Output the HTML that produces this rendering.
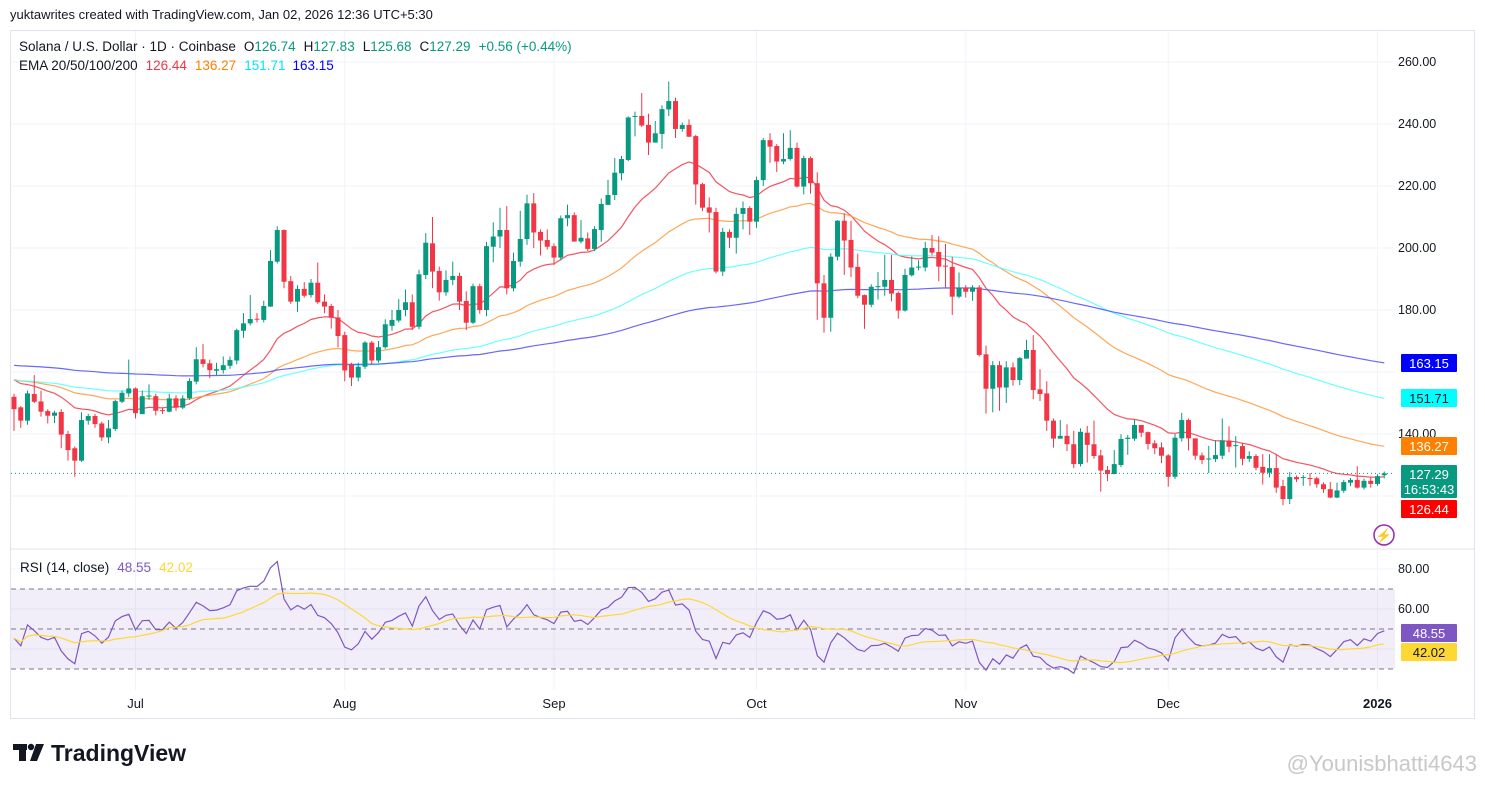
<!DOCTYPE html>
<html><head><meta charset="utf-8">
<style>
body{margin:0;background:#fff;width:1485px;height:787px;overflow:hidden;font-family:"Liberation Sans",sans-serif;}
svg text{font-family:"Liberation Sans",sans-serif;}
</style></head>
<body>
<svg id="chart" width="1485" height="787" xmlns="http://www.w3.org/2000/svg">
<text x="10" y="19" font-size="13" fill="#131722">yuktawrites created with TradingView.com, Jan 02, 2026 12:36 UTC+5:30</text>
<rect x="10.5" y="30.5" width="1464" height="688" fill="#fff" stroke="#e0e3eb"/>
<g id="grid"></g>
<rect x="11" y="589" width="1384" height="80" fill="#7e57c2" fill-opacity="0.1"/>
<g id="marks"></g>
<line x1="10" y1="549" x2="1475" y2="549" stroke="#e0e3eb"/>
<g id="axes"></g>
<text x="19" y="51" font-size="13.5"><tspan fill="#131722">Solana / U.S. Dollar · 1D · Coinbase</tspan><tspan dx="8" fill="#131722">O</tspan><tspan fill="#089981">126.74</tspan><tspan dx="8" fill="#131722">H</tspan><tspan fill="#089981">127.83</tspan><tspan dx="8" fill="#131722">L</tspan><tspan fill="#089981">125.68</tspan><tspan dx="8" fill="#131722">C</tspan><tspan fill="#089981">127.29</tspan><tspan dx="8" fill="#089981">+0.56 (+0.44%)</tspan></text>
<text x="19" y="70" font-size="13.5"><tspan fill="#131722">EMA 20/50/100/200</tspan><tspan dx="8" fill="#f23645">126.44</tspan><tspan dx="8" fill="#ff7f00">136.27</tspan><tspan dx="8" fill="#00e5ff">151.71</tspan><tspan dx="8" fill="#0000ff">163.15</tspan></text>
<text x="20" y="572" font-size="13.5"><tspan fill="#131722">RSI (14, close)</tspan><tspan dx="8" fill="#7e57c2">48.55</tspan><tspan dx="8" fill="#fdd835">42.02</tspan></text>
<circle cx="1384" cy="535" r="10" fill="none" stroke="#9c27b0" stroke-width="1.5"/>
<text x="1384" y="540" font-size="13" fill="#9c27b0" text-anchor="middle">⚡</text>
<g>
<rect x="13" y="744" width="14" height="6" fill="#131722"/><rect x="19" y="744" width="7" height="17" fill="#131722"/><circle cx="31" cy="747" r="3.2" fill="#131722"/><polygon points="36,744 44,744 37,761 30,761" fill="#131722"/>
<text x="51" y="761" font-size="23" font-weight="bold" fill="#131722">TradingView</text></g>
<text x="1477" y="771" font-size="22" fill="#c8c8c8" text-anchor="end">@Younisbhatti4643</text>
</svg>
<script>
const opens=[152,148.6,144.3,152.9,150.5,147.4,145.9,147.1,140,135.4,131.4,144.3,145.8,143.4,138.9,141.6,150.4,153.1,154.7,146.4,152.2,152.2,147.7,147.2,151.5,148.5,151.5,156.9,164.1,162.8,160.4,160.6,162,163.7,173.3,175.7,177.2,176.8,181.1,195.6,205.8,189.3,182.7,186.8,184.8,188.8,182.7,181.3,177.6,171.9,162.5,158.2,161.7,169.5,163.7,168,174.9,176.6,180,182.5,174.6,191.3,201.5,192.6,185.7,189.7,191,182.9,175.9,187.7,180,200.4,203.7,205.8,187,195.6,202.9,214.4,205.2,202.6,200.6,196.9,209.6,210.6,202.1,203.1,199.7,205.8,213.9,217.1,224.1,228.4,242.4,242.6,239.7,234,236.8,244.7,247.4,238.4,239.7,236.1,220.6,213.1,211.6,192.4,205.2,203.3,211,212.9,208.5,221.9,234.8,232.9,227.9,228.7,232.3,219.8,229,220.9,188.6,177.5,197.2,208.8,202.6,193.9,184.8,181.7,187.5,187.5,189.7,185.5,179.8,191.2,193.8,193.7,200,198.7,194.3,193.9,184.3,187.2,185.9,187.3,165.7,154.6,162.2,155,161.5,157.4,164.3,167.1,154.4,153.1,144.3,138.5,139.4,136.7,130.3,140.4,136.7,133.1,128.4,127.1,130,138.4,138.5,142.9,140.6,137,135.7,133.1,126.2,138.6,144.5,138.6,133.1,131.9,131.9,133,137.9,136.3,136.1,132,132.9,129.4,127.5,129,123.2,119,126.1,126,125.8,125.7,123.8,122.2,119.5,121.7,124.3,125.2,122.7,124.9,123.9,126.7];
const closes=[148,144.3,153.1,150.4,147.2,145.9,146.9,139.8,134.8,131.4,144.5,145.8,143.2,138.9,141.8,150.6,153.3,154.7,146.7,152.2,152.4,147.5,147.5,151.5,148.5,151.5,157.1,164.1,162.6,160.6,160.9,162.2,163.9,173.5,175.7,177.1,177,181.3,195.8,205.8,189.1,182.7,186.8,184.6,188.8,182.5,181.1,177.5,171.6,160.5,158.2,161.7,169.5,163.7,168,175.4,176.8,180,182.5,174.6,191.5,201.7,192.4,185.7,189.7,191,182.7,175.9,187.7,180,200.6,203.7,205.8,187,195.8,202.9,214.4,205,202.4,200.4,196.9,209.6,210.6,202.1,203.3,199.7,206.1,214.2,217.1,224.3,228.7,242.1,242.6,239.5,234,237,244.8,247.4,238.4,239.7,235.9,220.5,213,211.4,192.4,205.2,203.3,211,212.9,208.5,221.9,234.8,232.7,227.9,228.7,232.3,219.8,229,220.9,188.6,177.5,197.2,208.8,202.4,193.7,184.6,181.7,187.5,187.7,189.7,185.3,179.8,191.3,193.7,194,200,198.5,194,194.2,184.3,187.2,185.9,187.3,165.5,154.6,162.2,155,161.5,157.4,164.5,167.1,154.2,152.9,144.3,138.5,139.4,136.7,130.3,140.7,136.5,132.9,128.2,127.1,130.3,138.4,138.8,142.9,140.4,136.8,135.4,133,126.2,138.8,144.5,138.6,133,131.6,132.1,133.2,137.9,135.9,136.4,132,132.9,129.1,127.5,129,122.7,119,126.1,125.4,126.1,125.7,123.8,122.2,119.5,121.8,124.5,125.2,122.7,124.9,123.9,126.4,127.3];
const highs=[153,149,154,159,154,148,147.5,148,141,136,147,146.5,146.5,144,144.5,151,154,164,155,154,156,153,148.5,153,152.5,152.5,158,168,169,164,163,165,165,174,179,184.8,179,183,199.3,207,206,191,188,189,190,195.3,185,182,180,173,163,163,170,170,170,177,180,183.5,186.6,185,193,204.8,210,194,192.8,195.6,192,186,188.5,188.5,202,208.3,213,213.5,198.5,212,217.2,217.7,206,206,201.5,210.5,214,211.5,209,205,207,216,222,229,229.7,242.5,244,250,243.3,241,246,253.7,248.5,240.5,241.5,236.5,221,216.3,213,206.5,206,213,215,213.5,223,235.5,237,233.5,237,238,234,229.8,229.5,224.4,191.3,198.3,209,211.2,208.8,198.2,185,188.3,192.2,197.8,197.8,186,193.3,197.3,196,202,204.2,203.8,201.3,197.2,192.1,188,188,188,168.5,163.5,163.5,163.5,163.1,164.8,170.4,171.9,160.9,157,145,144.5,143.1,141,141.8,142.6,144.3,134.9,129.7,134.8,139.9,139.7,144.6,142.9,140.8,138,137.3,133.5,140,146.8,145,135,134,136.2,138,145,142.5,139.3,137.2,134.4,133.5,133.5,133.5,133.5,125.2,127.8,126.6,126.8,127.4,126.2,124.4,124.5,124.3,125.2,125.8,129.6,125.6,126.3,127,127.9];
const lows=[141,142,143,150,145.6,143.4,143.5,135.4,131.4,126.2,131,143,142,137.8,137,141,150,152,145,147,151,146,146.5,147,147.5,148,151,156,161.5,158,159,159.5,161,162.5,171,175,176,176,181,195,187,182,179.4,184,184,182,179,174,168,157,155.5,157,161,162.3,163,167.5,173.3,176,178,173.5,173.8,190,187,183,184.6,188,180,173.5,175.5,178.8,178,195.4,200,185,186,194,201,200,197.6,199.5,194.5,196,207,202,201.5,199,199,202,214,215.5,221.8,228,236,239,230,234,232,242.6,235.5,237.5,235.8,214,211.9,205,191.8,191,200,198.2,206,204.2,206.5,220,227.5,224.5,227,228.2,219.5,217.3,217.5,176.8,172.7,173,196,191.3,190.6,183.8,173.9,180.9,183.4,184.6,182.8,177.2,179.5,190.8,192.8,192.5,197.7,189.3,187.3,178.4,183.8,184,183,165,146.6,147,147.5,150,155.6,155.8,165,151.2,150.6,141,135.6,138.5,134.5,129,129.5,130.8,132,121.4,124.8,127,129.3,133.3,137.8,139,135,133.5,130.6,123,125.5,137.6,134.7,131.7,130.3,127.4,131,131.9,134.1,129.2,129.9,131,128.3,123.7,126,121,117,117.4,124.5,123.3,123.3,122.7,121,119.3,119.3,121,123.2,122.4,122.1,122.7,123.3,125.7];
const priceTicks=[260,240,220,200,180,160,140,120];
const rsiTicks=[80,60];
const monthLabels=["Jul","Aug","Sep","Oct","Nov","Dec","2026"];
const monthIndex=[18,49,80,110,141,171,202];
const emaPeriods=[20,50,100,200];
const emaSeeds=[158.5,158,157.6,162.3];
const emaColors=["#f23645","#ff9838","#53ffff","#4d4dff"];
const emaLabels=["126.44","136.27","151.71","163.15"];

const NS="http://www.w3.org/2000/svg";
const X=i=>14+i*6.75;
const Y=p=>62+(260-p)*3.1;
const RY=v=>569+(80-v)*2;
function mk(tag,attrs,parent){const e=document.createElementNS(NS,tag);for(const k in attrs)e.setAttribute(k,attrs[k]);parent.appendChild(e);return e;}
const grid=document.getElementById('grid'),marks=document.getElementById('marks'),axes=document.getElementById('axes');

priceTicks.forEach(p=>{
  const l=mk('line',{x1:11,x2:1395,y1:Y(p),y2:Y(p),stroke:'#f0f3fa'},grid);
  
  
  if(p!==160&&p!==120){const t=mk('text',{x:1398,y:Y(p)+4,'font-size':12.5,fill:'#131722'},axes);t.textContent=p.toFixed(2);
  
  }
});
[80,60,40].forEach(v=>{const l=mk('line',{x1:11,x2:1395,y1:RY(v),y2:RY(v),stroke:'#f0f3fa'},grid);
  
  });
rsiTicks.forEach(v=>{const t=mk('text',{x:1398,y:RY(v)+4,'font-size':12.5,fill:'#131722'},axes);t.textContent=v.toFixed(2);
  
  });
monthLabels.forEach((m,k)=>{const x=X(monthIndex[k]);
  const l=mk('line',{x1:x,x2:x,y1:31,y2:690,stroke:'#f0f3fa'},grid);
  
  
  const t=mk('text',{x:x,y:708,'font-size':13,fill:'#131722','text-anchor':'middle','font-weight':m==='2026'?'bold':'normal'},axes);t.textContent=m;
  
  });
[70,50,30].forEach(v=>{const l=mk('line',{x1:11,x2:1395,y1:RY(v),y2:RY(v),stroke:'#787b86','stroke-dasharray':'5 4'},grid);
  
  });

emaPeriods.forEach((n,k)=>{let e=emaSeeds[k];const a=2/(n+1);let pts=[];
  closes.forEach((c,i)=>{e=c*a+e*(1-a);pts.push(X(i).toFixed(1)+','+Y(e).toFixed(1));});
  const pl=mk('polyline',{points:pts.join(' '),fill:'none',stroke:emaColors[k],'stroke-width':1.2,'stroke-opacity':0.85},marks);
  
  });

closes.forEach((c,i)=>{const o=opens[i],up=c>=o,col=up?'#089981':'#f23645',x=X(i);
  const g=mk('g',{},marks);
  
  
  mk('line',{x1:x,x2:x,y1:Y(highs[i]),y2:Y(lows[i]),stroke:col,'stroke-width':1},g);
  const top=Y(Math.max(o,c)),h=Math.max(1,Math.abs(Y(o)-Y(c)));
  mk('rect',{x:x-2.5,y:top,width:5,height:h,fill:col},g);});

const lp=mk('line',{x1:11,x2:1395,y1:Y(127.29),y2:Y(127.29),stroke:'#089981','stroke-dasharray':'1 3'},marks);



let ag=1.5,al=1.8,rsi=[];
closes.forEach((c,i)=>{const d=i?c-closes[i-1]:0;ag=(ag*13+Math.max(d,0))/14;al=(al*13+Math.max(-d,0))/14;rsi.push(100-100/(1+ag/al));});
const ma=rsi.map((v,i)=>{const s=rsi.slice(Math.max(0,i-13),i+1);return s.reduce((a,b)=>a+b,0)/s.length;});
const rl=mk('polyline',{points:rsi.map((v,i)=>X(i).toFixed(1)+','+RY(v).toFixed(1)).join(' '),fill:'none',stroke:'#7e57c2','stroke-width':1.2},marks);


const ml=mk('polyline',{points:ma.map((v,i)=>X(i).toFixed(1)+','+RY(v).toFixed(1)).join(' '),fill:'none',stroke:'#fdd835','stroke-width':1.2},marks);



function badge(y,h,bg,fg,lines,name){const g=mk('g',{},axes);
  
  
  mk('rect',{x:1401,y:y,width:56,height:h,fill:bg,rx:1},g);
  lines.forEach((s,j)=>{const t=mk('text',{x:1429,y:y+14+j*15,'font-size':13,fill:fg,'text-anchor':'middle'},g);t.textContent=s;});}
badge(354,18,'#0000ff','#fff',[emaLabels[3]],'ema200-badge');
badge(389,18,'#00ffff','#131722',[emaLabels[2]],'ema100-badge');
badge(437,18,'#ff7f00','#fff',[emaLabels[1]],'ema50-badge');
badge(465,33,'#089981','#fff',['127.29','16:53:43'],'last-price-badge');
badge(500,18,'#ff0000','#fff',[emaLabels[0]],'ema20-badge');
badge(624,18,'#7e57c2','#fff',['48.55'],'rsi-badge');
badge(643,18,'#fdd835','#131722',['42.02'],'rsi-ma-badge');
</script>
</body></html>
